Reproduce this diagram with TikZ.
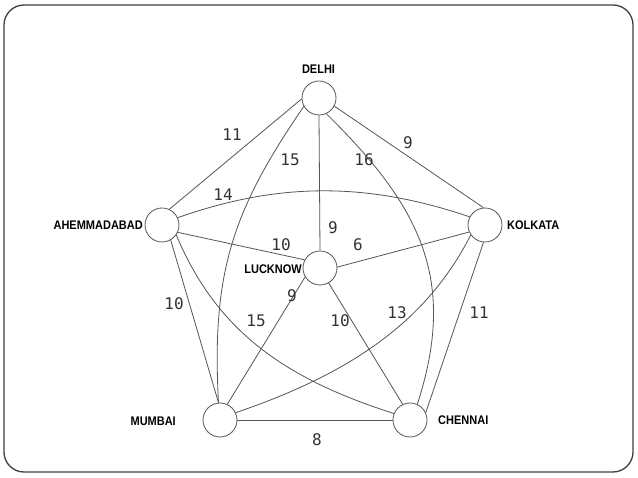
\documentclass[tikz,border=0pt]{standalone}
\usepackage{fontspec}
\usepackage{graphicx}
\setmainfont{Liberation Sans}
\newfontfamily\wtfont{DejaVu Sans Mono}
\newcommand\cname[1]{\scalebox{0.88}[1]{#1}}
\definecolor{linegray}{HTML}{555555}
\definecolor{framegray}{HTML}{404040}
\definecolor{wtgray}{HTML}{333333}
\tikzset{
  city/.style={circle, draw=linegray, line width=0.8pt, minimum size=34pt, inner sep=0pt, fill=white},
  edge/.style={draw=linegray, line width=0.8pt},
  wt/.style={font=\wtfont\fontsize{16}{16}\selectfont, text=wtgray, inner sep=0pt},
  lbl/.style={font=\bfseries\fontsize{12.5}{12.5}\selectfont, inner sep=0pt},
}
\begin{document}
\begin{tikzpicture}[x=1pt,y=-1pt]
\useasboundingbox (0,0) rectangle (638,478);
\fill[white] (0,0) rectangle (638,478);
\draw[framegray, line width=1.3pt, rounded corners=20pt] (4,5) rectangle (633,472);

% cities
\node[city] (D) at (319,98) {};
\node[city] (A) at (162,225) {};
\node[city] (K) at (485,225) {};
\node[city] (L) at (320,268) {};
\node[city] (M) at (220,420) {};
\node[city] (C) at (410,420) {};

% city labels
\node[lbl] (tD) at (318.5,69.5) {\cname{DELHI}};
\node[lbl, anchor=east] (tA) at (143,225) {\cname{AHEMMADABAD}};
\node[lbl, anchor=west] (tK) at (507,225) {\cname{KOLKATA}};
\node[lbl, anchor=east] (tL) at (302,269.5) {\cname{LUCKNOW}};
\node[lbl, anchor=east] (tM) at (176,421) {\cname{MUMBAI}};
\node[lbl, anchor=west] (tC) at (438,420) {\cname{CHENNAI}};

% edges
\draw[edge] (D.183) -- (A.65);
\draw[edge] (D.-28) -- (K.95);
\draw[edge] (D.south) -- (L.north);
\draw[edge] (D.209) .. controls (232,211) and (211.5,273) .. (M.95);
\draw[edge] (D.295) .. controls (420,206) and (458,279) .. (C.65);
\draw[edge] (A.25) .. controls (279,182) and (367,182) .. (K.152);
\draw[edge] (A.-25) -- (L.152);
\draw[edge] (A.-60) -- (M.95);
\draw[edge] (A.-35) .. controls (215,327) and (279,377) .. (C.158);
\draw[edge] (L.3) -- (K.204);
\draw[edge] (L.211) -- (M.65);
\draw[edge] (L.-60) -- (C.115);
\draw[edge] (K.215) .. controls (426,323) and (349,374) .. (M.25);
\draw[edge] (K.265) -- (C.25);
\draw[edge] (M.east) -- (C.west);

% weights
\node[wt] (w1) at (232,135) {11};
\node[wt] (w2) at (290,160) {15};
\node[wt] (w3) at (364,160) {16};
\node[wt] (w4) at (408,143) {9};
\node[wt] (w5) at (223,194.5) {14};
\node[wt] (w6) at (333,228) {9};
\node[wt] (w7) at (281,245) {10};
\node[wt] (w8) at (358,245) {6};
\node[wt] (w9) at (174,304) {10};
\node[wt] (w10) at (256,321) {15};
\node[wt] (w11) at (292,296) {9};
\node[wt] (w12) at (340,321) {10};
\node[wt] (w13) at (397,313) {13};
\node[wt] (w14) at (479,313) {11};
\node[wt] (w15) at (317,440) {8};
\end{tikzpicture}
\end{document}
